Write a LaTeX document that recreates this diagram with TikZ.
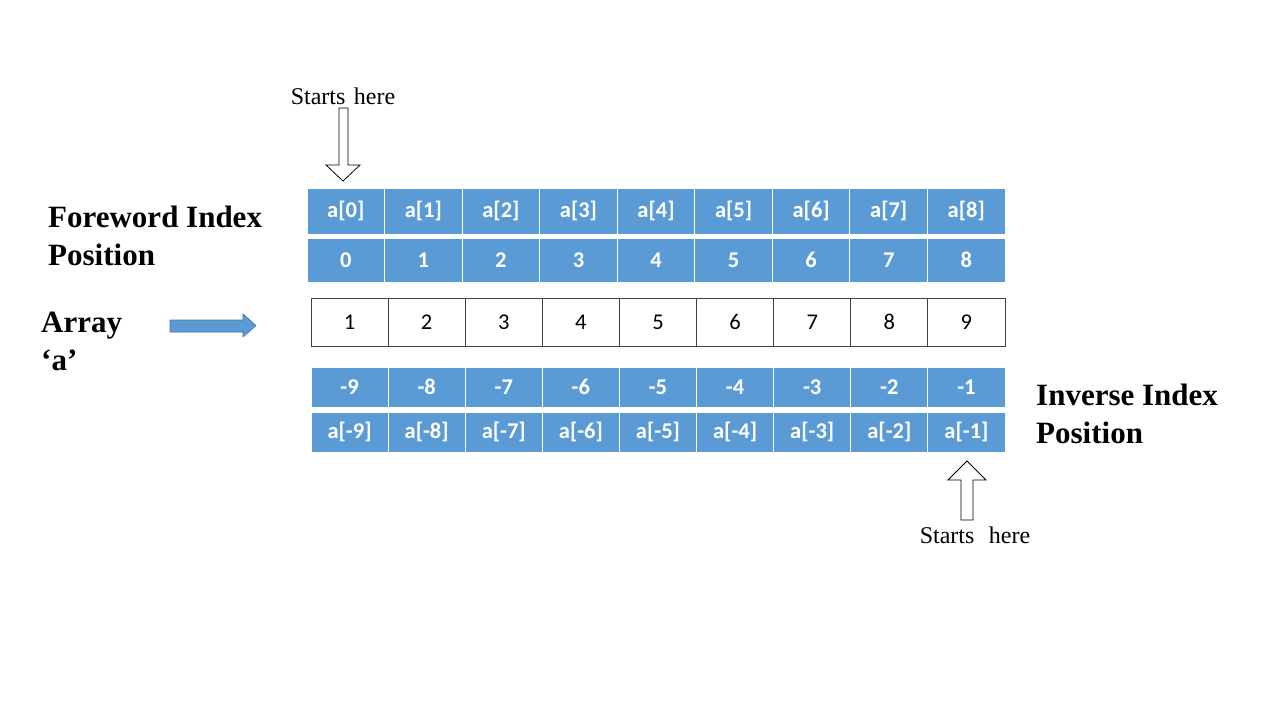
\documentclass[tikz,border=0pt]{standalone}
\usepackage{fontspec}
\setmainfont{Liberation Serif}
\newfontfamily\calfont{Carlito}
\definecolor{cellblue}{HTML}{5B9BD5}
\definecolor{arrowedge}{HTML}{41719C}
\definecolor{gridgray}{HTML}{404040}
\tikzset{
  bluecell/.style={fill=cellblue, draw=white, line width=1pt, inner sep=0pt,
    text=white, font=\calfont\bfseries\fontsize{22.5}{26}\selectfont},
  valcell/.style={draw=gridgray, line width=0.9pt, inner sep=0pt,
    text=black, font=\calfont\fontsize{22.5}{26}\selectfont},
  heading/.style={font=\bfseries\fontsize{31}{38}\selectfont, align=left, inner sep=0pt, anchor=north west},
  note/.style={font=\fontsize{24}{28}\selectfont, inner sep=0pt},
  hollow/.style={draw=black, fill=white, line width=0.8pt},
  bluearrow/.style={fill=cellblue, draw=arrowedge, line width=0.6pt}
}
\begin{document}
\begin{tikzpicture}[x=1pt,y=-1pt]
\useasboundingbox (0,0) rectangle (1280,720);
% forward rows
\foreach \i in {0,...,8}{
  \node[bluecell, minimum width=77.56pt, minimum height=46pt] (t\i) at ({307+77.56*(\i+0.5)},211) {a[\i]};
  \node[bluecell, minimum width=77.56pt, minimum height=44pt] (f\i) at ({307+77.56*(\i+0.5)},260) {\i};
}
% values
\foreach \i [evaluate=\i as \v using int(\i+1)] in {0,...,8}{
  \node[valcell, minimum width=77.11pt, minimum height=48pt] (m\i) at ({311+77.11*(\i+0.5)},322) {\v};
}
% inverse rows
\foreach \i [evaluate=\i as \n using int(\i-9)] in {0,...,8}{
  \node[bluecell, minimum width=77.11pt, minimum height=40pt] (n\i) at ({311+77.11*(\i+0.5)},387) {\n};
  \node[bluecell, minimum width=77.11pt, minimum height=40pt] (b\i) at ({311+77.11*(\i+0.5)},432) {a[\n]};
}
% headings
\node[heading] (fwd) at (48,206) {Foreword Index\\Position};
\node[heading] (arr) at (41,312) {Array\\‘a’};
\node[heading] (inv) at (1036,384) {Inverse Index\\Position};
% blue arrow
\draw[bluearrow] (170,320) -- (243,320) -- (243,314) -- (256,325.5) -- (243,337) -- (243,332) -- (170,332) -- cycle;
% starts here (top)
\node[note, anchor=base] (s1) at (343,104) {Starts\hspace{0.35em}here};
\draw[hollow] (339,108) -- (348,108) -- (348,165) -- (360,165) -- (343,181) -- (326,165) -- (339,165) -- cycle;
% starts here (bottom)
\node[note, anchor=base] (s2) at (975,543) {Starts\hspace{0.6em}here};
\draw[hollow] (961,520) -- (973,520) -- (973,480) -- (986,480) -- (967,461) -- (948,480) -- (961,480) -- cycle;
\end{tikzpicture}
\end{document}
